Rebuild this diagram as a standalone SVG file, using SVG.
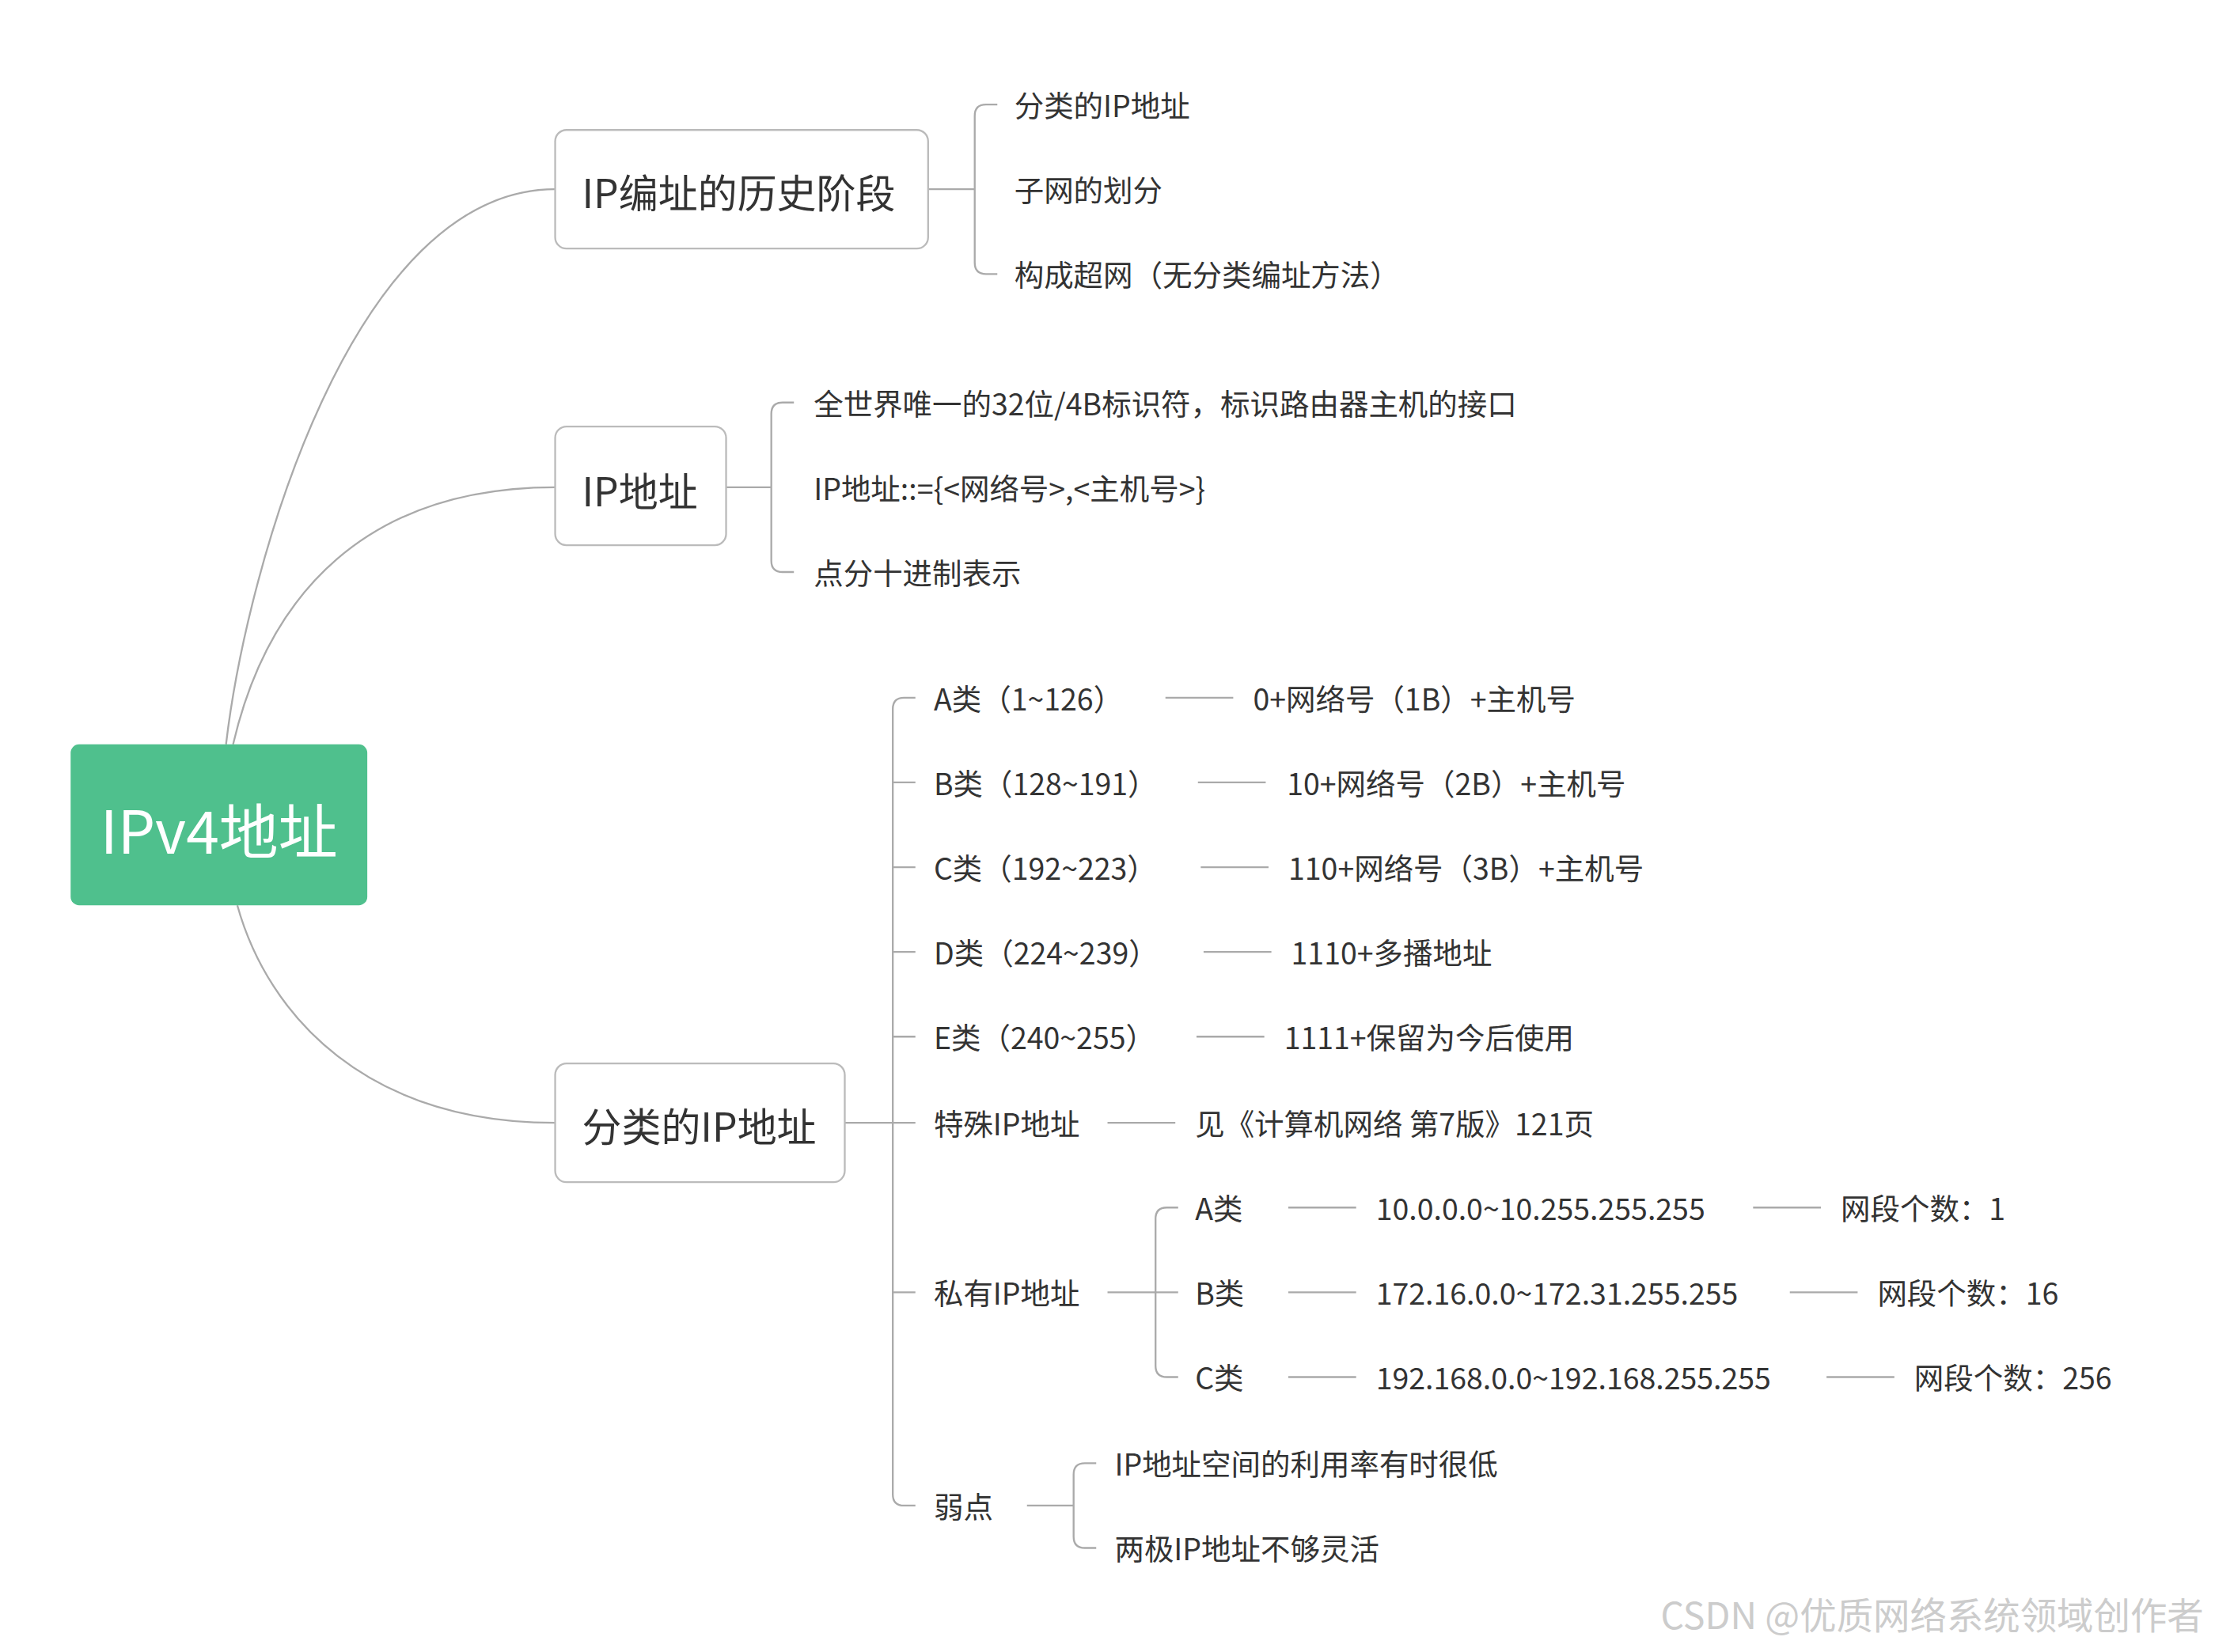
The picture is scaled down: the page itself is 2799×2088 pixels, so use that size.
<svg xmlns="http://www.w3.org/2000/svg" width="2799" height="2088" viewBox="0 0 2799 2088">
<style>
text{font-family:"Noto Sans CJK SC","Noto Sans",sans-serif;fill:#333;dominant-baseline:central}
.l{font-size:21px}
.n{font-size:28px}
.c{fill:none;stroke:#aaa;stroke-width:1.3}
.b{fill:#fff;stroke:#bbb;stroke-width:1.3}
</style>
<rect width="2799" height="2088" fill="#fff"/>
<g transform="scale(1.7851)">
<g id="connectors">
<path class="c" d="M160,527 C175,400 250,134 393,134"/>
<path class="c" d="M165,527 C190,420 260,345 393,345"/>
<path class="c" d="M168,641 C190,720 260,795 393,795"/>
<path class="c" d="M657,134 H690 M706,74 H698 Q690,74 690,82 V186 Q690,194 698,194 H706"/>
<path class="c" d="M514,345 H546 M562,285 H554 Q546,285 546,293 V397 Q546,405 554,405 H562"/>
<path class="c" d="M598,795 H632 M648,494 H640 Q632,494 632,502 V1058 Q632,1066 640,1066 H648 M632,554 H648 M632,614 H648 M632,674 H648 M632,734 H648 M632,795 H648 M632,915 H648"/>
<path class="c" d="M825,494 H873 M848,554 H896 M850,614 H898 M852,674 H900 M847,734 H895 M784,795 H832"/>
<path class="c" d="M784,915 H818 M834,855 H826 Q818,855 818,863 V967 Q818,975 826,975 H834 M818,915 H834"/>
<path class="c" d="M912,855 H960 M912,915 H960 M912,975 H960 M1241,855 H1289 M1267,915 H1315 M1293,975 H1341"/>
<path class="c" d="M727,1066 H760 M776,1036 H768 Q760,1036 760,1044 V1088 Q760,1096 768,1096 H776"/>
</g>
<g id="root"><rect x="50" y="527" width="210" height="114" rx="6" fill="#4fc08d"/><text x="155" y="586" text-anchor="middle" style="font-size:42px;fill:#fff">IPv4地址</text></g>
<g id="n1"><rect class="b" x="393" y="92" width="264" height="84" rx="8"/><text class="n" x="412" y="135">IP编址的历史阶段</text></g>
<g id="n2"><rect class="b" x="393" y="302" width="121" height="84" rx="8"/><text class="n" x="412" y="346">IP地址</text></g>
<g id="n3"><rect class="b" x="393" y="753" width="205" height="84" rx="8"/><text class="n" x="412" y="796">分类的IP地址</text></g>
<g id="leaves" class="l">
<text class="l" x="718" y="74">分类的IP地址</text>
<text class="l" x="718" y="134">子网的划分</text>
<text class="l" x="718" y="194">构成超网（无分类编址方法）</text>
<text class="l" x="576" y="285">全世界唯一的32位/4B标识符，标识路由器主机的接口</text>
<text class="l" x="576" y="345">IP地址::={&lt;网络号&gt;,&lt;主机号&gt;}</text>
<text class="l" x="576" y="405">点分十进制表示</text>
<text class="l" x="661" y="494">A类（1~126）</text><text class="l" x="887" y="494">0+网络号（1B）+主机号</text>
<text class="l" x="661" y="554">B类（128~191）</text><text class="l" x="911" y="554">10+网络号（2B）+主机号</text>
<text class="l" x="661" y="614">C类（192~223）</text><text class="l" x="912" y="614">110+网络号（3B）+主机号</text>
<text class="l" x="661" y="674">D类（224~239）</text><text class="l" x="914" y="674">1110+多播地址</text>
<text class="l" x="661" y="734">E类（240~255）</text><text class="l" x="909" y="734">1111+保留为今后使用</text>
<text class="l" x="661" y="795">特殊IP地址</text><text class="l" x="846" y="795">见《计算机网络 第7版》121页</text>
<text class="l" x="661" y="915">私有IP地址</text>
<text class="l" x="846" y="855">A类</text><text class="l" x="974" y="855">10.0.0.0~10.255.255.255</text><text class="l" x="1303" y="855">网段个数：1</text>
<text class="l" x="846" y="915">B类</text><text class="l" x="974" y="915">172.16.0.0~172.31.255.255</text><text class="l" x="1329" y="915">网段个数：16</text>
<text class="l" x="846" y="975">C类</text><text class="l" x="974" y="975">192.168.0.0~192.168.255.255</text><text class="l" x="1355" y="975">网段个数：256</text>
<text class="l" x="661" y="1066">弱点</text>
<text class="l" x="789" y="1036">IP地址空间的利用率有时很低</text>
<text class="l" x="789" y="1096">两极IP地址不够灵活</text>
</g>
<text x="1560" y="1142" text-anchor="end" style="font-size:26px;fill:#ccc">CSDN @优质网络系统领域创作者</text>
</g>
</svg>
